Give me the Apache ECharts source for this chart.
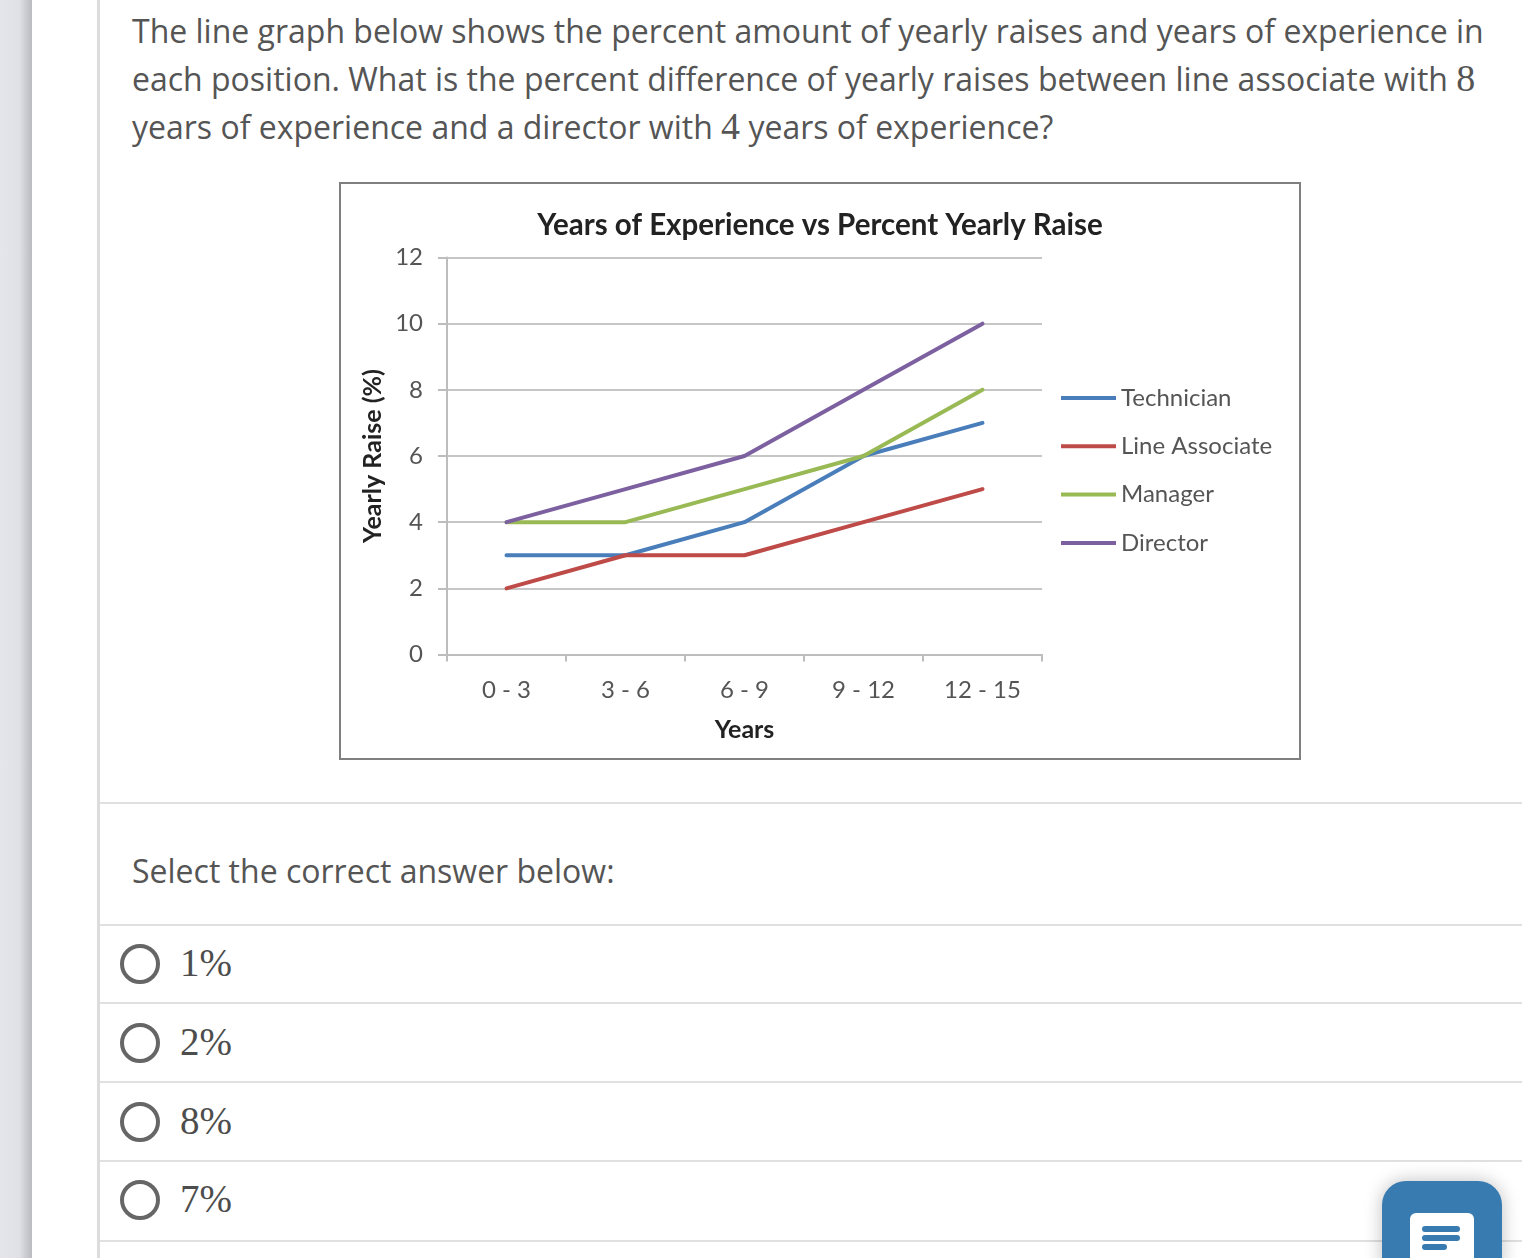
<!DOCTYPE html>
<html>
<head>
<meta charset="utf-8">
<title>Yearly raises</title>
<script src="https://cdn.jsdelivr.net/npm/echarts@6/dist/echarts.min.js"></script>
<style>
html,body{margin:0;padding:0;background:#fff;}
body{width:1522px;height:1258px;position:relative;overflow:hidden;font-family:"Open Sans",sans-serif;color:#555;}
.strip{position:absolute;left:0;top:0;width:32px;height:1258px;background:linear-gradient(to right,#e4e6ea 0,#dfe1e6 60%,#b9bbc0 100%);}
.vline{position:absolute;left:97px;top:0;width:3px;height:1258px;background:#dcdcdc;}
.rule{position:absolute;left:100px;right:0;height:2px;background:#e0e0e0;}
.question{position:absolute;left:132px;top:7px;width:1380px;font-size:32px;line-height:48px;white-space:nowrap;}
.question .m{font-family:"Liberation Serif",serif;font-size:38px;line-height:0;}
.prompt{position:absolute;left:132px;top:847px;font-size:32px;line-height:48px;}
.radio{position:absolute;left:120px;width:32px;height:32px;border:4px solid #666;border-radius:50%;}
.answer{position:absolute;left:180px;font-family:"Liberation Serif",serif;font-size:39px;line-height:48px;color:#4d4d4d;}
#chart{position:absolute;left:339px;top:182px;width:958px;height:574px;border:2px solid #808080;background:#fff;filter:blur(0.5px);}
.help{position:absolute;left:1382px;top:1181px;width:120px;height:100px;background:#377bb0;border-radius:24px;box-shadow:0 0 18px rgba(0,0,0,.25);}
.help .card{position:absolute;left:28px;top:32px;width:64px;height:60px;background:#fff;border-radius:6px;}
.help .bar{position:absolute;left:12px;height:6px;border-radius:3px;background:#377bb0;}
</style>
</head>
<body>
<div class="strip"></div>
<div class="vline"></div>
<div class="question">The line graph below shows the percent amount of yearly raises and years of experience in<br>each position. What is the percent difference of yearly raises between line associate with <span class="m">8</span><br>years of experience and a director with <span class="m">4</span> years of experience?</div>
<div id="chart"></div>
<div class="rule" style="top:802px"></div>
<div class="prompt">Select the correct answer below:</div>
<div class="rule" style="top:924px"></div>
<div class="rule" style="top:1002px"></div>
<div class="rule" style="top:1081px"></div>
<div class="rule" style="top:1160px"></div>
<div class="rule" style="top:1240px"></div>
<div class="radio" style="top:944px"></div><div class="answer" style="top:939px">1%</div>
<div class="radio" style="top:1023px"></div><div class="answer" style="top:1018px">2%</div>
<div class="radio" style="top:1102px"></div><div class="answer" style="top:1097px">8%</div>
<div class="radio" style="top:1180px"></div><div class="answer" style="top:1175px">7%</div>
<div class="help"><div class="card">
<div class="bar" style="top:13px;width:38px"></div>
<div class="bar" style="top:22px;width:38px"></div>
<div class="bar" style="top:31px;width:25px"></div>
</div></div>
<script>
var categories = ['0 - 3','3 - 6','6 - 9','9 - 12','12 - 15'];
var technician = [3,3,4,6,7];
var lineAssociate = [2,3,3,4,5];
var manager = [4,4,5,6,8];
var director = [4,5,6,8,10];

var chart = echarts.init(document.getElementById('chart'));

function lineSeries(name,data,color){
	return {
		name:name,
		type:'line',
		symbol:'none',
		smooth:false,
		lineStyle:{color:color,width:4,cap:'round'},
		itemStyle:{color:color},
		data:data
	};
}

var labelFont = 'Lato';
var option = {
	animation:false,
	title:{
		text:'Years of Experience vs Percent Yearly Raise',
		left:'center',
		top:21,
		textStyle:{fontFamily:labelFont,fontSize:29.5,fontWeight:'bold',color:'#222'}
	},
	legend:{
		orient:'vertical',
		left:715,
		top:197,
		icon:'rect',
		itemWidth:55,
		itemHeight:4,
		itemGap:24.3,
		textStyle:{fontFamily:labelFont,fontSize:24,color:'#555'},
		data:['Technician','Line Associate','Manager','Director']
	},
	grid:{left:106,top:73.5,width:595,height:397},
	xAxis:{
		type:'category',
		boundaryGap:true,
		data:categories,
		name:'Years',
		nameLocation:'middle',
		nameGap:63,
		nameMoveOverlap:false,
		nameTextStyle:{fontFamily:labelFont,fontSize:25,fontWeight:'bold',color:'#222'},
		axisLine:{lineStyle:{color:'#bdbdbd',width:2}},
		axisTick:{show:true,length:7,lineStyle:{color:'#bdbdbd',width:2}},
		axisLabel:{fontFamily:labelFont,fontSize:24,color:'#555',margin:24}
	},
	yAxis:{
		type:'value',
		min:0,
		max:12,
		interval:2,
		name:'Yearly Raise (%)',
		nameLocation:'middle',
		nameGap:62,
		nameMoveOverlap:false,
		nameTextStyle:{fontFamily:labelFont,fontSize:25,fontWeight:'bold',color:'#222'},
		axisLine:{show:true,lineStyle:{color:'#bdbdbd',width:2}},
		axisTick:{show:true,length:9,lineStyle:{color:'#bdbdbd',width:2}},
		axisLabel:{fontFamily:labelFont,fontSize:24,color:'#555',margin:24},
		splitLine:{show:true,lineStyle:{color:'#c6c6c6',width:2}}
	},
	series:[
		lineSeries('Technician',technician,'#4a7ebb'),
		lineSeries('Line Associate',lineAssociate,'#be4b48'),
		lineSeries('Manager',manager,'#98b954'),
		lineSeries('Director',director,'#7d60a0')
	]
};
chart.setOption(option);
</script>
</body>
</html>
